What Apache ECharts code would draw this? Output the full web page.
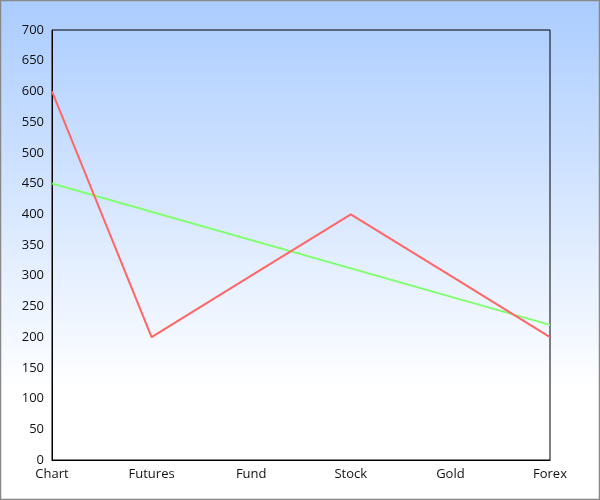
<!DOCTYPE html>
<html><head><meta charset="utf-8">
<script src="https://cdn.jsdelivr.net/npm/echarts@6/dist/echarts.min.js"></script>
<style>html,body{margin:0;padding:0;background:#fff}#c{width:600px;height:500px}</style>
</head><body><div id="c"></div>
<script>
var categories = ['Chart', 'Futures', 'Fund', 'Stock', 'Gold', 'Forex'];
var redValues = [600, 200, 300, 400, 300, 200];
var greenValues = [450, null, null, null, null, 220];
var yTicks = {min: 0, max: 700, interval: 50};

var chart = echarts.init(document.getElementById('c'));
chart.setOption({
  animation: false,
  backgroundColor: {
    type: 'linear', x: 0, y: 0, x2: 0, y2: 1,
    colorStops: [{offset: 0, color: '#aaccff'}, {offset: 0.78, color: '#ffffff'}, {offset: 1, color: '#ffffff'}]
  },
  graphic: [{
    type: 'rect', silent: true, z: 100,
    shape: {x: 0.5, y: 0.5, width: 599, height: 499},
    style: {fill: 'none', stroke: '#888888', lineWidth: 1.5}
  }],
  grid: {left: 52, right: 50, top: 30, bottom: 40, show: true, borderColor: '#000', borderWidth: 1, backgroundColor: 'transparent'},
  xAxis: {
    type: 'category', data: categories, boundaryGap: false,
    axisLine: {show: true, lineStyle: {color: '#000'}},
    axisTick: {show: false},
    axisLabel: {color: '#111', fontFamily: 'Open Sans', fontSize: 13, margin: 8, interval: 0},
    splitLine: {show: false}
  },
  yAxis: {
    type: 'value', min: yTicks.min, max: yTicks.max, interval: yTicks.interval,
    axisLine: {show: true, lineStyle: {color: '#000'}},
    axisTick: {show: false},
    axisLabel: {color: '#111', fontFamily: 'Open Sans', fontSize: 13, margin: 8},
    splitLine: {show: false}
  },
  series: [
    {type: 'line', data: greenValues, connectNulls: true, showSymbol: false, lineStyle: {color: '#80ff70', width: 2}, itemStyle: {color: '#80ff70'}},
    {type: 'line', data: redValues, showSymbol: false, lineStyle: {color: '#ff6666', width: 2}, itemStyle: {color: '#ff6666'}}
  ]
});
</script></body></html>
